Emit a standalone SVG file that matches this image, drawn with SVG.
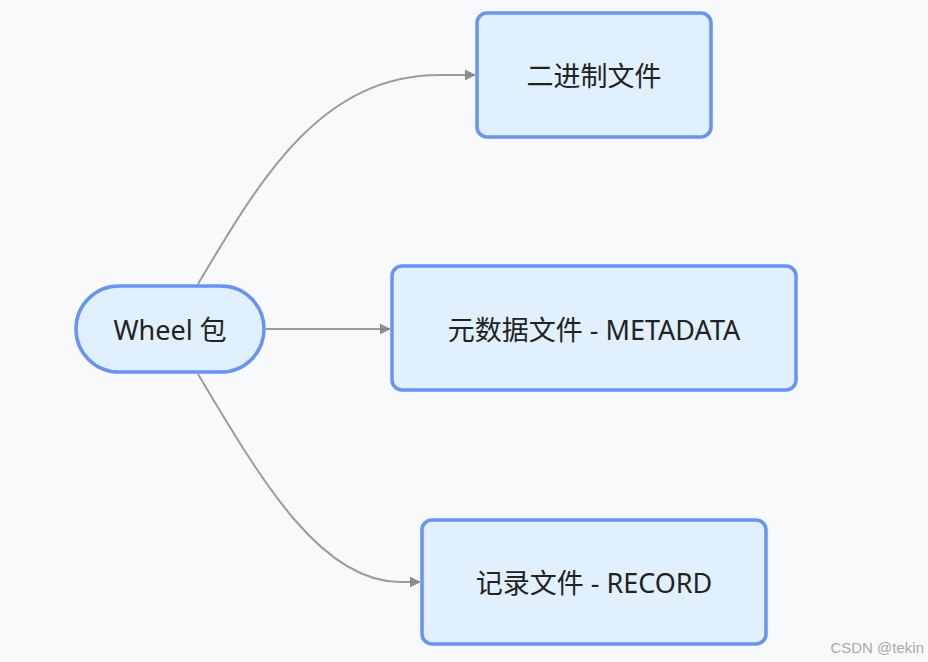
<svg xmlns="http://www.w3.org/2000/svg" width="928" height="662" viewBox="0 0 928 662">
<style>
.n{fill:#e0f1fd;stroke:#6592fb;stroke-width:3.5}
.t{font-family:"Noto Sans","Noto Sans CJK SC",sans-serif;font-size:27px;fill:#222;text-anchor:middle;dominant-baseline:central}
.e{fill:none;stroke:#9c9c9c;stroke-width:2}
</style>
<defs><marker id="a" viewBox="0 0 10 10" refX="9" refY="5" markerWidth="10" markerHeight="10" markerUnits="userSpaceOnUse" orient="auto"><path d="M0,0L10,5L0,10z" fill="#888" stroke="#666" stroke-width="0.6" opacity="0.9"/></marker></defs>
<rect width="928" height="662" fill="#f8f9fb"/>
<g id="edges">
<path class="e" d="M198,284C260,180 320,75 440,75L474,75" marker-end="url(#a)" style="marker-end:url(#a)"/>
<path class="e" d="M266,329L389,329" marker-end="url(#a)"/>
<path class="e" d="M198,374C260,478 320,582 400,582L419,582" marker-end="url(#a)"/>
</g>
<defs/>
<g id="wheel"><rect class="n" x="76" y="286" width="188" height="86" rx="43"/><text class="t" x="170" y="329">Wheel 包</text></g>
<g id="bin"><rect class="n" x="477" y="13" width="234" height="124" rx="10"/><text class="t" x="594" y="75">二进制文件</text></g>
<g id="meta"><rect class="n" x="392" y="266" width="404" height="124" rx="10"/><text class="t" x="594" y="329">元数据文件 - METADATA</text></g>
<g id="rec"><rect class="n" x="422" y="520" width="344" height="124" rx="10"/><text class="t" x="594" y="582">记录文件 - RECORD</text></g>
<text x="924" y="653" font-family="Liberation Sans,sans-serif" font-size="15" fill="#aaa" text-anchor="end">CSDN @tekin</text>
</svg>
